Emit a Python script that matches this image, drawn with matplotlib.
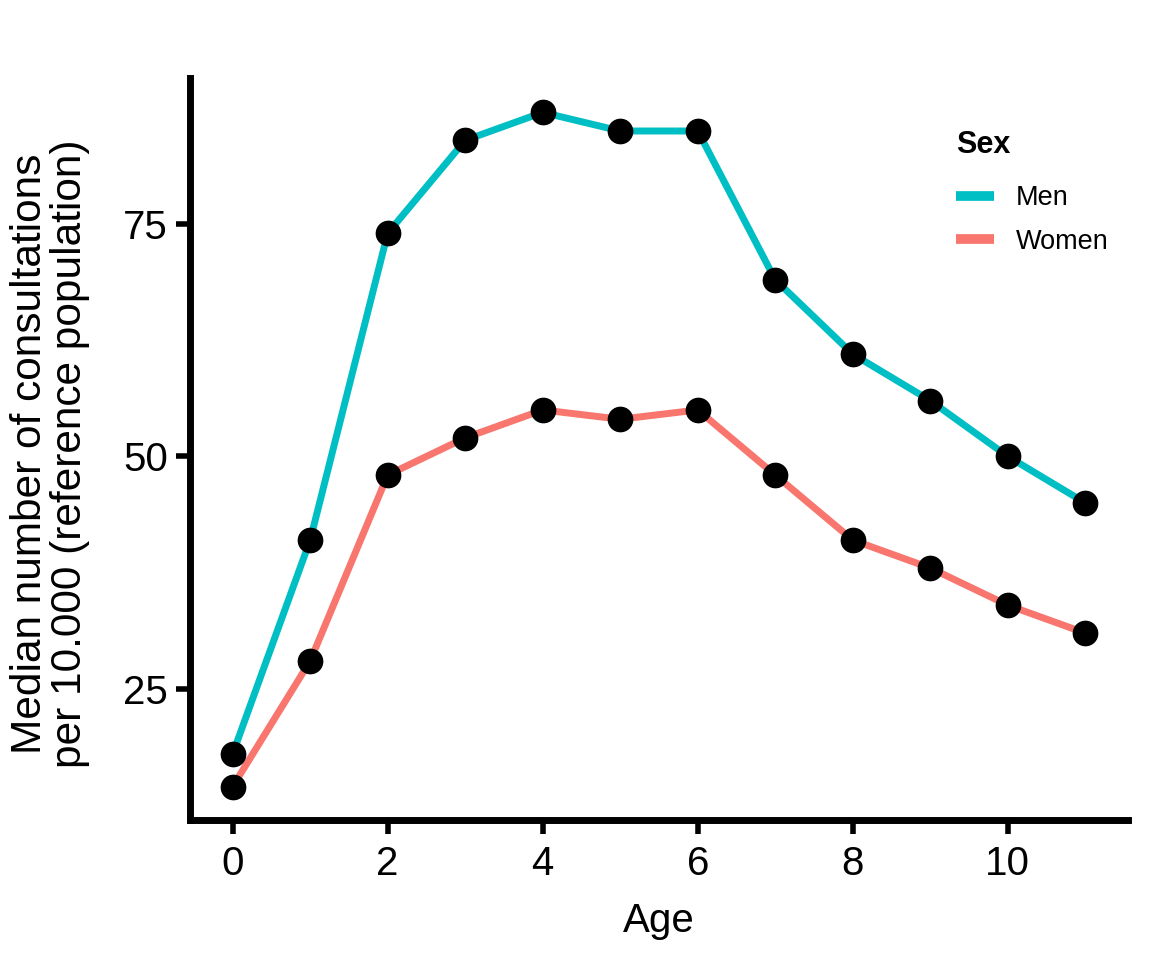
import matplotlib
matplotlib.use("Agg")
import matplotlib.pyplot as plt
import numpy as np

plt.rcParams['font.family'] = ['Liberation Sans', 'DejaVu Sans']

age = list(range(12))
men = [18, 41, 74, 84, 87, 85, 85, 69, 61, 56, 50, 45]
women = [14.5, 28, 48, 52, 55, 54, 55, 48, 41, 38, 34, 31]
series = [("Men", men, "#00BFC4"), ("Women", women, "#F8766D")]


def main():
    fig = plt.figure(figsize=(11.52, 9.6), dpi=100)
    ax = fig.add_axes([190 / 1152, 1 - 820 / 960, 938 / 1152, 742 / 960])

    for name, vals, col in series:
        ax.plot(age, vals, color=col, lw=5, label=name, zorder=2, solid_capstyle='butt')
    for name, vals, col in series:
        ax.plot(age, vals, 'o', color='black', ms=17.5, zorder=3)

    ax.set_xlim(-0.55, 11.55)
    ax.set_ylim(10.9, 90.7)
    ax.set_xticks([0, 2, 4, 6, 8, 10])
    ax.set_yticks([25, 50, 75])

    for s in ['top', 'right']:
        ax.spines[s].set_visible(False)
    for s in ['left', 'bottom']:
        ax.spines[s].set_linewidth(5)
        ax.spines[s].set_capstyle('projecting')
    ax.tick_params(axis='both', length=10, width=4, labelsize=29, color='black')
    ax.tick_params(axis='x', pad=8)
    ax.tick_params(axis='y', pad=6)

    ax.set_xlabel("Age", fontsize=29, labelpad=14)
    fig.text(50 / 1152, 1 - 454 / 960,
             "Median number of consultations\nper 10.000 (reference population)",
             rotation=90, ha='center', va='center', fontsize=30.5, linespacing=1.0)

    leg = ax.legend(title="Sex", loc='upper left', bbox_to_anchor=(956 / 1152, 1 - 130 / 960),
                    bbox_transform=fig.transFigure, frameon=False, fontsize=19.5,
                    title_fontproperties={'weight': 'bold', 'size': 22},
                    handlelength=1.4, handletextpad=0.8, labelspacing=0.65,
                    borderaxespad=0, borderpad=0)
    leg._legend_box.align = "left"
    leg._legend_box.sep = 18
    for line in leg.get_lines():
        line.set_linewidth(7)

    fig.savefig("out.png", dpi=100)


if __name__ == "__main__":
    main()
